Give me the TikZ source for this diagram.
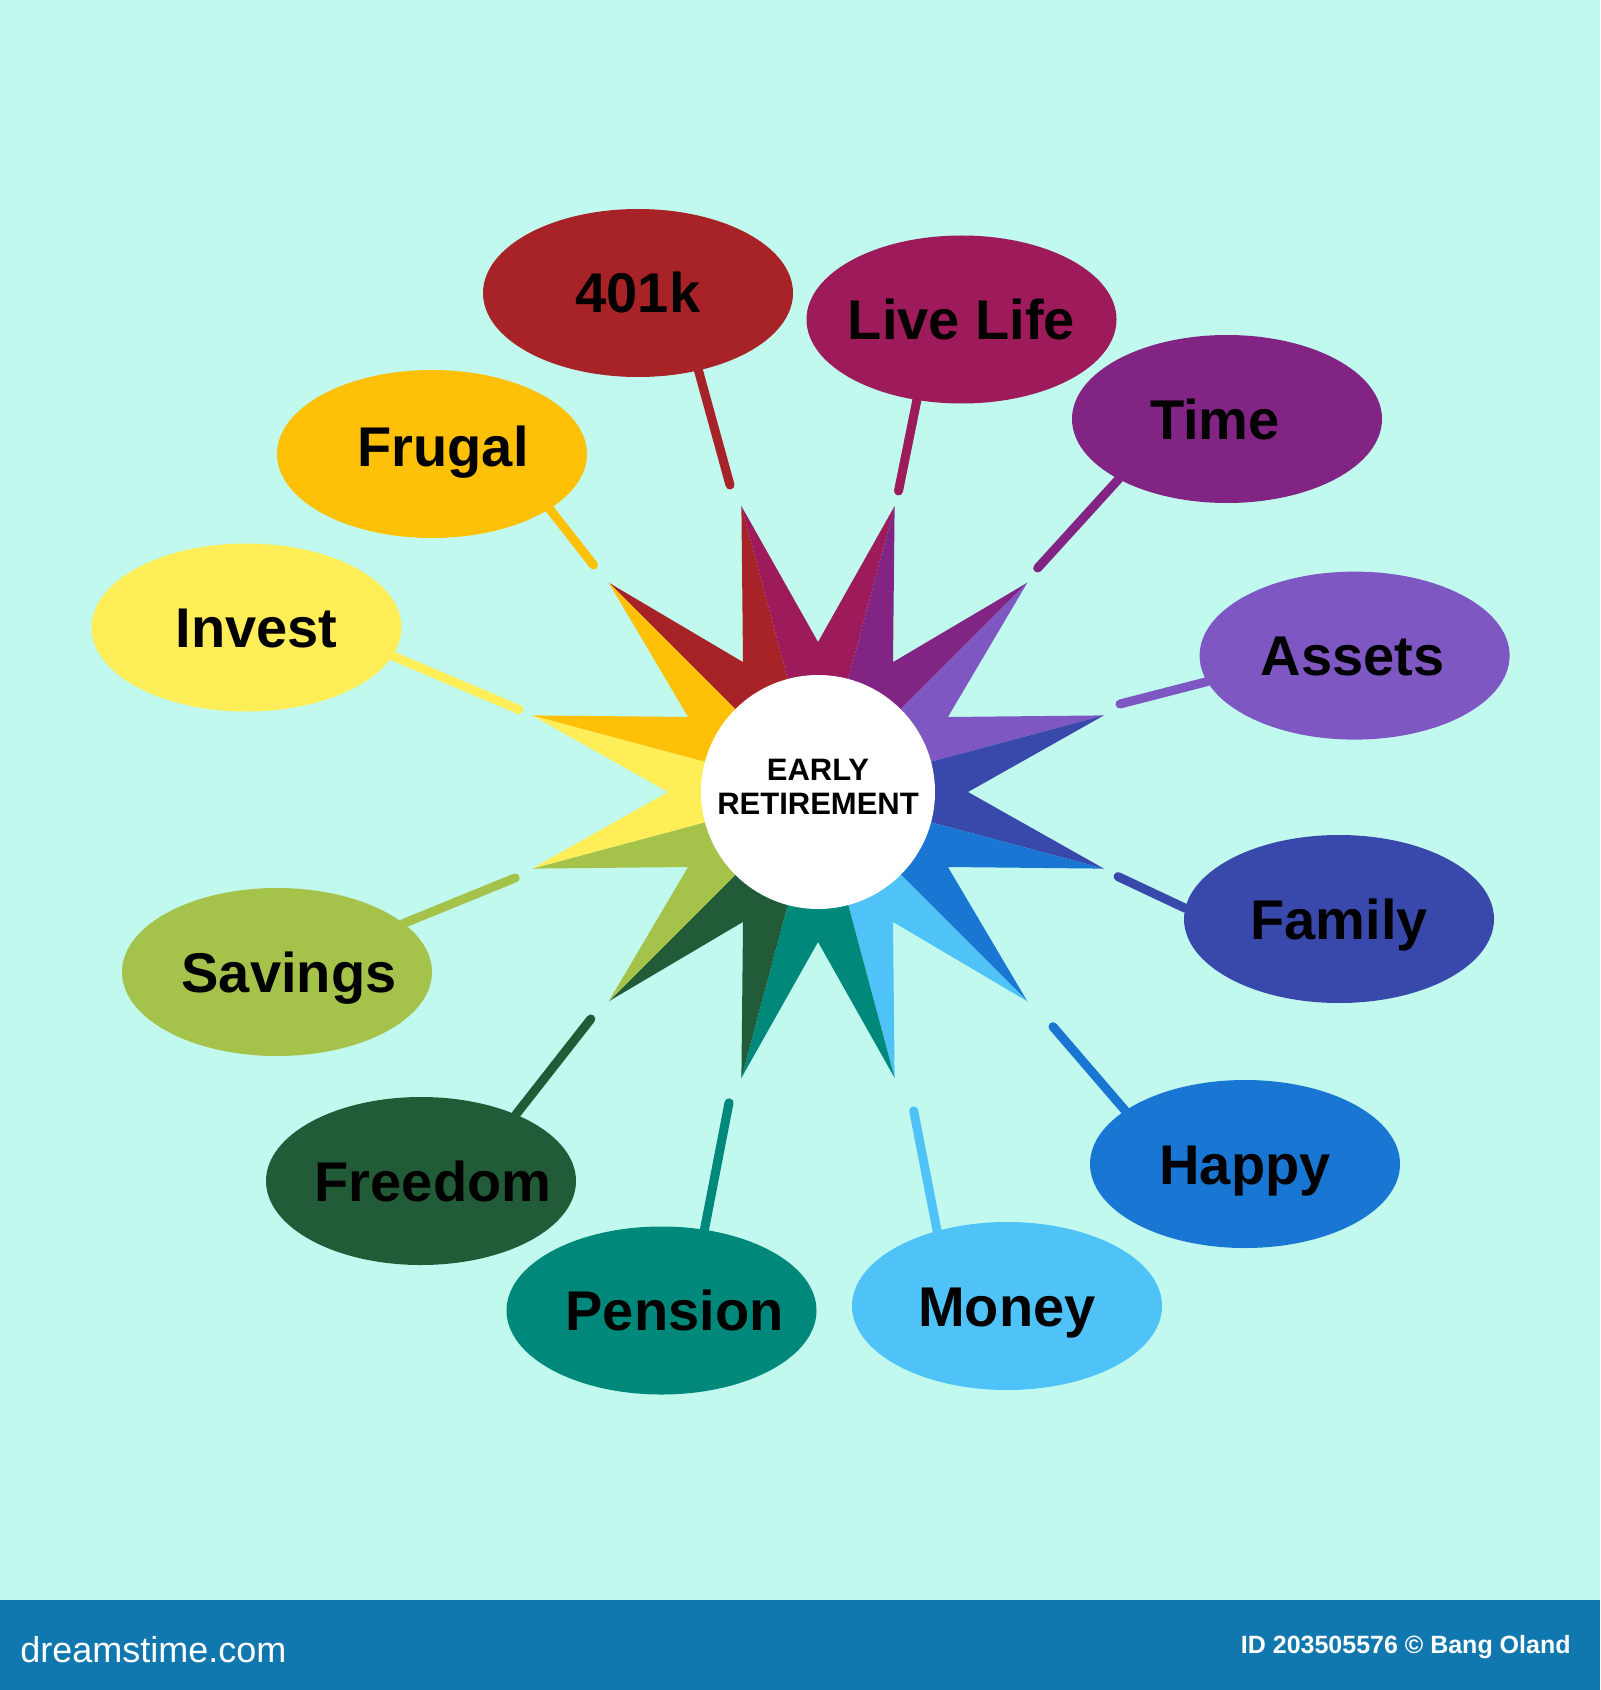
\documentclass[tikz,border=0pt]{standalone}
\usepackage{fontspec}
\setmainfont{Liberation Sans}
\usetikzlibrary{shapes.geometric}
\definecolor{bgcol}{HTML}{C1F9EE}
\definecolor{barcol}{HTML}{1177AF}
\definecolor{c401k}{HTML}{A82327}
\definecolor{cLive}{HTML}{9D1A5B}
\definecolor{cTime}{HTML}{822483}
\definecolor{cAssets}{HTML}{7E57C2}
\definecolor{cFamily}{HTML}{3949AB}
\definecolor{cHappy}{HTML}{1976D2}
\definecolor{cMoney}{HTML}{4FC3F7}
\definecolor{cPension}{HTML}{00897B}
\definecolor{cFreedom}{HTML}{215B38}
\definecolor{cSavings}{HTML}{A5C24B}
\definecolor{cInvest}{HTML}{FFEE58}
\definecolor{cFrugal}{HTML}{FFC107}
% zero-width label; optional arg shifts the text right by half its value
\newcommand{\zw}[2][0pt]{\makebox[0pt][c]{\hspace*{#1}#2}}
\tikzset{
  bubble/.style={ellipse, minimum width=155pt, minimum height=84pt, inner sep=0pt, outer sep=0pt,
    text=black, font=\fontsize{28}{30}\selectfont\bfseries, text height=20pt, text depth=0pt},
  link/.style={line width=4.5pt, line cap=round},
  hub/.style={circle, fill=white, minimum size=117pt, inner sep=0pt, outer sep=0pt},
  hubtext/.style={align=center, text=black, font=\fontsize{15.5}{17}\selectfont\bfseries, inner sep=0pt},
}
\begin{document}
\begin{tikzpicture}[x=0.5pt, y=-0.5pt]
\useasboundingbox (0,0) rectangle (1600,1690);
\fill[bgcol] (0,0) rectangle (1600,1690);
\fill[barcol] (0,1600) rectangle (1600,1690);
% star wedges
\foreach \a/\col in {120/c401k, 90/cLive, 60/cTime, 30/cAssets, 0/cFamily, -30/cHappy, -60/cMoney, -90/cPension, -120/cFreedom, -150/cSavings, 180/cInvest, 150/cFrugal}
  \fill[\col] (818,792) -- ({818+296*cos(\a+15)},{792-296*sin(\a+15)}) -- ({818+150*cos(\a)},{792-150*sin(\a)}) -- ({818+296*cos(\a-15)},{792-296*sin(\a-15)}) -- cycle;
\node[hub] (hub) at (818,792) {};
\node[hubtext] (hubtext) at (818,786.5) {EARLY\\RETIREMENT};
% bubbles
\node[bubble, fill=c401k] (n401k) at (638,293) {\zw{401k}};
\node[bubble, fill=cLive] (nLive) at (961.5,319.5) {\zw{Live Life}};
\node[bubble, fill=cTime] (nTime) at (1227,419) {\zw[-12pt]{Time}};
\node[bubble, fill=cAssets] (nAssets) at (1354.6,655.6) {\zw[-2pt]{Assets}};
\node[bubble, fill=cFamily] (nFamily) at (1339,919) {\zw{Family}};
\node[bubble, fill=cHappy] (nHappy) at (1245,1164) {\zw{Happy}};
\node[bubble, fill=cMoney] (nMoney) at (1007,1306) {\zw{Money}};
\node[bubble, fill=cPension] (nPension) at (661.5,1310.5) {\zw[13pt]{Pension}};
\node[bubble, fill=cFreedom] (nFreedom) at (421,1181) {\zw[12pt]{Freedom}};
\node[bubble, fill=cSavings] (nSavings) at (277,972) {\zw[12pt]{Savings}};
\node[bubble, fill=cInvest] (nInvest) at (246.5,627.5) {\zw[10pt]{Invest}};
\node[bubble, fill=cFrugal] (nFrugal) at (432,454) {\zw[11pt]{\raisebox{4pt}{Frugal}}};
% connector ends
\coordinate (e401k) at (730,485);
\coordinate (eLive) at (898.5,491);
\coordinate (eTime) at (1037.7,568);
\coordinate (eAssets) at (1120,704);
\coordinate (eFamily) at (1118,876.6);
\coordinate (eHappy) at (1053,1026.7);
\coordinate (eMoney) at (913.7,1110.8);
\coordinate (ePension) at (729,1102.8);
\coordinate (eFreedom) at (590.8,1019);
\coordinate (eSavings) at (515.3,877.9);
\coordinate (eInvest) at (519,709.6);
\coordinate (eFrugal) at (593.5,565);
% connectors
\draw[link, c401k] (n401k.-52.8) -- (e401k);
\draw[link, cLive] (nLive.-119.4) -- (eLive);
\draw[link, cTime] (nTime.-151) -- (eTime);
\draw[link, cAssets] (nAssets.-170.5) -- (eAssets);
\draw[link, cFamily] (nFamily.176.1) -- (eFamily);
\draw[link, cHappy] (nHappy.156.3) -- (eHappy);
\draw[link, cMoney] (nMoney.133) -- (eMoney);
\draw[link, cPension] (nPension.62.6) -- (ePension);
\draw[link, cFreedom] (nFreedom.35.6) -- (eFreedom);
\draw[link, cSavings] (nSavings.21) -- (eSavings);
\draw[link, cInvest] (nInvest.-11.6) -- (eInvest);
\draw[link, cFrugal] (nFrugal.-25.3) -- (eFrugal);
% footer
\node[anchor=base west, text=white, font=\fontsize{18}{20}\selectfont, inner sep=0pt] (brand) at (20,1662) {dreamstime.com};
\node[anchor=base east, text=white, font=\fontsize{12.5}{14}\selectfont\bfseries, inner sep=0pt] (credit) at (1571,1653) {ID 203505576 © Bang Oland};
\end{tikzpicture}
\end{document}
